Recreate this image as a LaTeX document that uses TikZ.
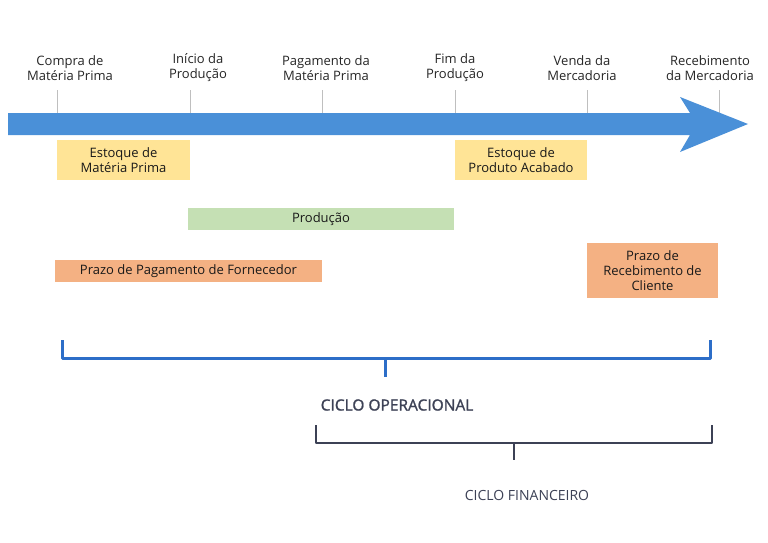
\documentclass[tikz,border=0pt]{standalone}
\usepackage{fontspec}
\setmainfont{Open Sans}
\begin{document}
\begin{tikzpicture}[x=1pt,y=-1pt,
  lbl/.style={align=center,font=\fontsize{13}{15}\selectfont,text=black!85},
  bx/.style={align=center,font=\fontsize{13}{15}\selectfont,inner sep=0pt,text=black!90},
  tk/.style={draw=gray!50,line width=0.6pt}]
\definecolor{ablue}{RGB}{74,144,216}
\definecolor{bblue}{RGB}{45,110,200}
\definecolor{yel}{RGB}{255,228,150}
\definecolor{grn}{RGB}{197,224,180}
\definecolor{org}{RGB}{244,177,131}
\definecolor{dk}{RGB}{60,65,85}
\useasboundingbox (0,0) rectangle (768,543);
\fill[white] (0,0) rectangle (768,543);
% ticks
\foreach \x/\n in {57/t1,190/t2,322/t3,455/t4,587/t5,719/t6}{
  \coordinate (\n a) at (\x,90); \coordinate (\n b) at (\x,113);
  \draw[tk] (\n a) -- (\n b);}
% arrow
\fill[ablue] (8,113) -- (690,113) -- (680,97) -- (748,124) -- (680,152) -- (690,135) -- (8,135) -- cycle;
% top labels
\node[lbl] (l1) at (70,68) {Compra de\\Matéria Prima};
\node[lbl] (l2) at (198,68) {Início da\\Produção};
\node[lbl] (l3) at (326,68) {Pagamento da\\Matéria Prima};
\node[lbl] (l4) at (455,68) {Fim da\\Produção};
\node[lbl] (l5) at (582,68) {Venda da\\Mercadoria};
\node[lbl] (l6) at (710,68) {Recebimento\\da Mercadoria};
% boxes
\node[bx,fill=yel,minimum width=133pt,minimum height=40pt] (e1) at (123.5,160) {Estoque de\\Matéria Prima};
\node[bx,fill=yel,minimum width=132pt,minimum height=40pt] (e2) at (521,160) {Estoque de\\Produto Acabado};
\node[bx,fill=grn,minimum width=266pt,minimum height=22pt] (p) at (321,219) {Produção};
\node[bx,fill=org,minimum width=267pt,minimum height=22pt] (f) at (188.5,271) {Prazo de Pagamento de Fornecedor};
\node[bx,fill=org,minimum width=131pt,minimum height=55pt] (c) at (652.5,270.5) {Prazo de\\Recebimento de\\Cliente};
% braces
\coordinate (b1l) at (62,340); \coordinate (b1r) at (710,340);
\coordinate (b1c) at (385,358); \coordinate (b1d) at (385,377);
\draw[bblue,line width=3pt,line join=round] (b1l) -- (62,358) -- (710,358) -- (b1r);
\draw[bblue,line width=3pt] (b1c) -- (b1d);
\node[font=\fontsize{15.5}{18}\selectfont\addfontfeatures{FakeBold=1.2},text=dk] (co) at (397,405) {CICLO OPERACIONAL};
\coordinate (b2l) at (316,425); \coordinate (b2r) at (712,425);
\coordinate (b2c) at (514,443); \coordinate (b2d) at (514,460);
\draw[dk,line width=2.5pt,line join=round] (b2l) -- (316,443) -- (712,443) -- (b2r);
\draw[dk,line width=2.5pt] (b2c) -- (b2d);
\node[font=\fontsize{14}{16}\selectfont,text=dk] (cf) at (527,495) {CICLO FINANCEIRO};
\end{tikzpicture}
\end{document}
